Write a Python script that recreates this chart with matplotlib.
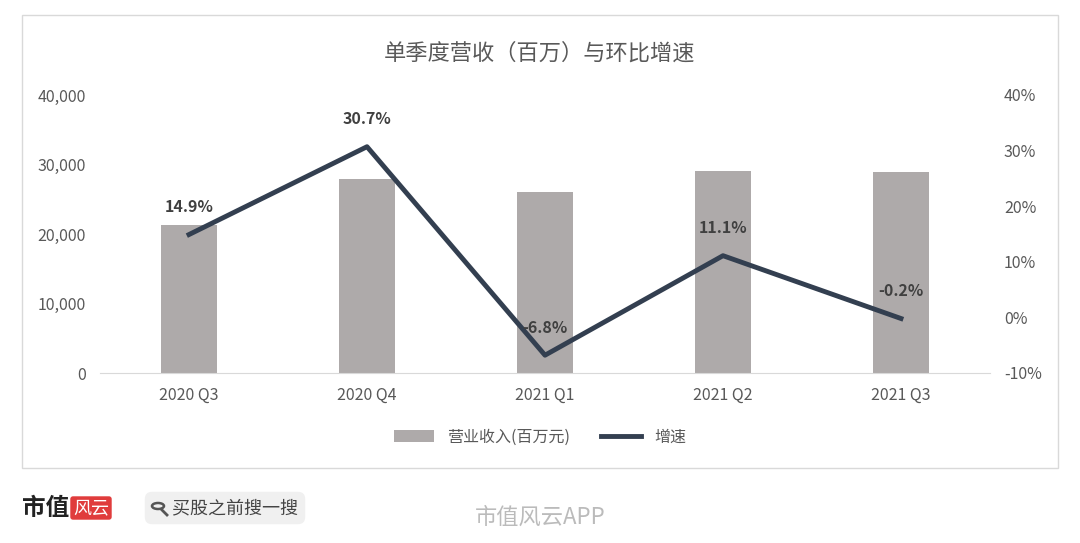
import matplotlib
matplotlib.use("Agg")
import matplotlib.pyplot as plt
from matplotlib.patches import Rectangle, Circle
from matplotlib.lines import Line2D

plt.rcParams['font.family'] = ['Noto Sans CJK SC', 'DejaVu Sans']

categories = ['2020 Q3', '2020 Q4', '2021 Q1', '2021 Q2', '2021 Q3']
revenue = [21300, 27900, 26100, 29000, 28900]
growth = [14.9, 30.7, -6.8, 11.1, -0.2]
growth_labels = ['14.9%', '30.7%', '-6.8%', '11.1%', '-0.2%']

fig = plt.figure(figsize=(10.8, 5.43), dpi=100)
fig.patch.set_facecolor('white')
fig.patches.append(Rectangle((22/1080, 75/543), 1036/1080, 453/543, transform=fig.transFigure,
                             fill=False, edgecolor='#d9d9d9', linewidth=1))

ax = fig.add_axes([100/1080, 170/543, 890/1080, 278/543])
x = range(len(categories))
ax.bar(x, revenue, width=0.32, color='#aeaaaa', label='营业收入(百万元)', zorder=2)
ax.set_ylim(0, 40000)
ax.set_yticks(range(0, 40001, 10000))
ax.set_yticklabels([f'{v:,}' for v in range(0, 40001, 10000)])
ax.set_xlim(-0.5, 4.5)
ax.set_xticks(list(x))
ax.set_xticklabels(categories)
for s in ['top', 'right', 'left']:
    ax.spines[s].set_visible(False)
ax.spines['bottom'].set_color('#d9d9d9')
ax.tick_params(length=0, colors='#595959', labelsize=11.5)
ax.tick_params(axis='x', pad=10)
ax.tick_params(axis='y', pad=10)

ax2 = ax.twinx()
ax2.plot(list(x), growth, color='#333f50', linewidth=3.5, label='增速', zorder=3)
ax2.set_ylim(-10, 40)
ax2.set_yticks(range(-10, 41, 10))
ax2.set_yticklabels([f'{v}%' for v in range(-10, 41, 10)])
for s in ['top', 'right', 'left', 'bottom']:
    ax2.spines[s].set_visible(False)
ax2.tick_params(length=0, colors='#595959', labelsize=11.5, pad=10)
for xi, g, lab in zip(x, growth, growth_labels):
    ax2.annotate(lab, (xi, g), xytext=(0, 16), textcoords='offset points', ha='center',
                 fontsize=11.5, fontweight='bold', color='#404040')

h1, l1 = ax.get_legend_handles_labels()
h2, l2 = ax2.get_legend_handles_labels()
fig.legend(h1 + h2, l1 + l2, loc='center', bbox_to_anchor=(540/1080, 1 - 437/543), ncol=2,
           frameon=False, fontsize=11.5, labelcolor='#595959', handlelength=2.5, columnspacing=2)

fig.text(540/1080, 1 - 53/543, '单季度营收（百万）与环比增速', ha='center', va='center', fontsize=16, color='#595959')

fig.text(22/1080, 1 - 508/543, '市值', ha='left', va='center', fontsize=17, fontweight='bold', color='#222222')
fig.text(73/1080, 1 - 508/543, '风云', ha='left', va='center', fontsize=13, color='white',
         bbox=dict(boxstyle='round,pad=0.15', fc='#e03c3c', ec='none'))
fig.text(152/1080, 1 - 508/543, '     买股之前搜一搜', ha='left', va='center', fontsize=13, color='#444444',
         bbox=dict(boxstyle='round,pad=0.4', fc='#f0f0f0', ec='none'))
fig.patches.append(Circle((158/1080, 1 - 506/543), 6/1080, transform=fig.transFigure, fill=False,
                          edgecolor='#555555', linewidth=1.8, zorder=5))
fig.lines.append(Line2D([162/1080, 167/1080], [1 - 510/543, 1 - 515/543], transform=fig.transFigure,
                        color='#555555', linewidth=2, zorder=5))
fig.text(475/1080, 1 - 517/543, '市值风云APP', ha='left', va='center', fontsize=16, color='#bbbbbb')

fig.savefig('out.png', dpi=100)
